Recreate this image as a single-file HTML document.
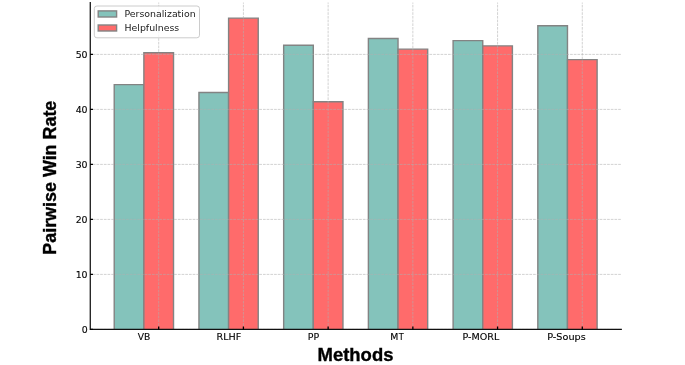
<!DOCTYPE html><html><head><meta charset="utf-8"><style>html,body{margin:0;padding:0;background:#fff;width:685px;height:365px;overflow:hidden}svg{display:block}</style></head><body>
<svg width="685" height="365" viewBox="0 0 685 365">
<rect width="685" height="365" fill="#fff"/>
<rect x="114.22" y="84.65" width="29.65" height="244.75" fill="#84c3bb"/>
<path d="M114.22 329.40V84.65H143.87V329.40" fill="none" stroke="#838383" stroke-width="1.4" stroke-linejoin="miter"/>
<rect x="143.87" y="52.75" width="29.65" height="276.65" fill="#ff6b6b"/>
<path d="M143.87 329.40V52.75H173.52V329.40" fill="none" stroke="#838383" stroke-width="1.4" stroke-linejoin="miter"/>
<rect x="198.94" y="92.51" width="29.65" height="236.88" fill="#84c3bb"/>
<path d="M198.94 329.40V92.51H228.59V329.40" fill="none" stroke="#838383" stroke-width="1.4" stroke-linejoin="miter"/>
<rect x="228.59" y="18.10" width="29.65" height="311.30" fill="#ff6b6b"/>
<path d="M228.59 329.40V18.10H258.24V329.40" fill="none" stroke="#838383" stroke-width="1.4" stroke-linejoin="miter"/>
<rect x="283.66" y="45.32" width="29.65" height="284.07" fill="#84c3bb"/>
<path d="M283.66 329.40V45.32H313.31V329.40" fill="none" stroke="#838383" stroke-width="1.4" stroke-linejoin="miter"/>
<rect x="313.31" y="101.70" width="29.65" height="227.70" fill="#ff6b6b"/>
<path d="M313.31 329.40V101.70H342.96V329.40" fill="none" stroke="#838383" stroke-width="1.4" stroke-linejoin="miter"/>
<rect x="368.38" y="38.45" width="29.65" height="290.95" fill="#84c3bb"/>
<path d="M368.38 329.40V38.45H398.03V329.40" fill="none" stroke="#838383" stroke-width="1.4" stroke-linejoin="miter"/>
<rect x="398.03" y="49.17" width="29.65" height="280.23" fill="#ff6b6b"/>
<path d="M398.03 329.40V49.17H427.68V329.40" fill="none" stroke="#838383" stroke-width="1.4" stroke-linejoin="miter"/>
<rect x="453.10" y="40.65" width="29.65" height="288.75" fill="#84c3bb"/>
<path d="M453.10 329.40V40.65H482.75V329.40" fill="none" stroke="#838383" stroke-width="1.4" stroke-linejoin="miter"/>
<rect x="482.75" y="45.88" width="29.65" height="283.52" fill="#ff6b6b"/>
<path d="M482.75 329.40V45.88H512.40V329.40" fill="none" stroke="#838383" stroke-width="1.4" stroke-linejoin="miter"/>
<rect x="537.82" y="25.80" width="29.65" height="303.60" fill="#84c3bb"/>
<path d="M537.82 329.40V25.80H567.47V329.40" fill="none" stroke="#838383" stroke-width="1.4" stroke-linejoin="miter"/>
<rect x="567.47" y="59.62" width="29.65" height="269.77" fill="#ff6b6b"/>
<path d="M567.47 329.40V59.62H597.12V329.40" fill="none" stroke="#838383" stroke-width="1.4" stroke-linejoin="miter"/>
<path d="M90.07 329.40H621.26M90.07 274.40H621.26M90.07 219.40H621.26M90.07 164.40H621.26M90.07 109.40H621.26M90.07 54.40H621.26" stroke="#b0b0b0" stroke-opacity="0.7" stroke-width="0.8" stroke-dasharray="2.7 1.0" stroke-dashoffset="1.0" fill="none"/>
<path d="M158.69 329.40V2.53M243.41 329.40V2.53M328.13 329.40V2.53M412.85 329.40V2.53M497.57 329.40V2.53M582.29 329.40V2.53" stroke="#b0b0b0" stroke-opacity="0.7" stroke-width="0.8" stroke-dasharray="2.7 1.0" fill="none"/>
<path d="M90.27 2.53V329.40H621.26" stroke="#111" stroke-width="1.25" fill="none" stroke-linecap="square"/>
<path d="M90.07 329.40h2.9M90.07 274.40h2.9M90.07 219.40h2.9M90.07 164.40h2.9M90.07 109.40h2.9M90.07 54.40h2.9M158.69 329.40v-2.9M243.41 329.40v-2.9M328.13 329.40v-2.9M412.85 329.40v-2.9M497.57 329.40v-2.9M582.29 329.40v-2.9" stroke="#000" stroke-width="1.3" fill="none"/>
<g font-family="DejaVu Sans, sans-serif" font-size="9.4" fill="#000" stroke="#000" stroke-width="0.12">
<text x="87.6" y="332.85" text-anchor="end">0</text>
<text x="87.6" y="277.85" text-anchor="end">10</text>
<text x="87.6" y="222.85" text-anchor="end">20</text>
<text x="87.6" y="167.85" text-anchor="end">30</text>
<text x="87.6" y="112.85" text-anchor="end">40</text>
<text x="87.6" y="57.85" text-anchor="end">50</text>
<text x="144.12" y="339.8" text-anchor="middle" textLength="12.57" lengthAdjust="spacingAndGlyphs">VB</text>
<text x="228.96" y="339.8" text-anchor="middle" textLength="24.73" lengthAdjust="spacingAndGlyphs">RLHF</text>
<text x="313.49" y="339.8" text-anchor="middle" textLength="11.34" lengthAdjust="spacingAndGlyphs">PP</text>
<text x="390.2" y="339.8">M</text><text x="398.85" y="339.8" textLength="5.05" lengthAdjust="spacingAndGlyphs">T</text>
<text x="480.95" y="339.8" text-anchor="middle" textLength="36.75" lengthAdjust="spacingAndGlyphs">P-MORL</text>
<text x="566.48" y="339.8" text-anchor="middle" textLength="38.52" lengthAdjust="spacingAndGlyphs">P-Soups</text>
</g>
<g font-family="Liberation Sans, Arial, sans-serif" font-weight="bold" font-size="18" fill="#000" stroke="#000" stroke-width="0.35">
<text x="355.5" y="360.5" text-anchor="middle" textLength="75.9" lengthAdjust="spacingAndGlyphs">Methods</text>
<text transform="translate(56.2 177.7) rotate(-90) scale(0.995 1.02)" text-anchor="middle">Pairwise Win Rate</text>
</g>
<rect x="94.3" y="6.0" width="105.2" height="31.8" rx="2.6" ry="2.6" fill="#fff" fill-opacity="0.8" stroke="#cccccc" stroke-width="1.0"/>
<rect x="98.2" y="10.9" width="18.4" height="6.1" fill="#84c3bb" stroke="#838383" stroke-width="1.4"/>
<rect x="98.2" y="25.0" width="18.4" height="6.0" fill="#ff6b6b" stroke="#838383" stroke-width="1.4"/>
<g font-family="DejaVu Sans, sans-serif" font-size="9.4" fill="#1a1a1a">
<text x="124.5" y="17.2">Personalization</text>
<text x="124.5" y="31.1">Helpfulness</text>
</g>
</svg></body></html>
